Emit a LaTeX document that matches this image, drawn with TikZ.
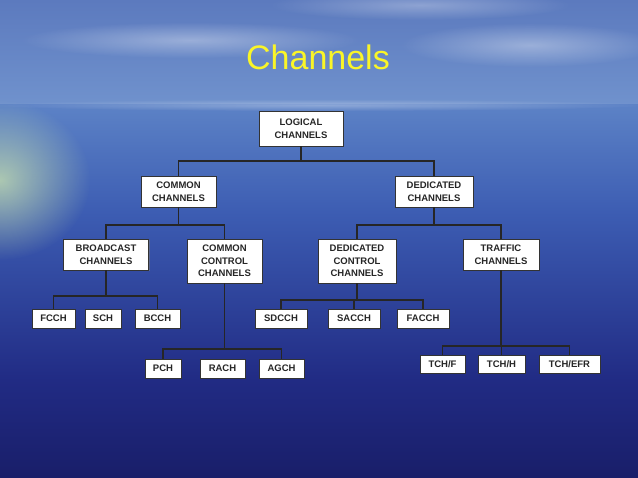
\documentclass[tikz,border=0pt]{standalone}
\usepackage{fontspec}
\setmainfont{Liberation Sans}
\usetikzlibrary{shadows,fadings}
\definecolor{glow}{RGB}{215,240,175}
\definecolor{ttl}{RGB}{250,245,40}
\definecolor{c0}{RGB}{92,122,190}
\definecolor{c1}{RGB}{112,146,205}
\definecolor{c2}{RGB}{92,130,198}
\definecolor{c3}{RGB}{60,92,178}
\definecolor{c4}{RGB}{33,43,132}
\definecolor{c5}{RGB}{25,30,105}
\tikzfading[name=softc, inner color=transparent!0, outer color=transparent!100]
\begin{document}
\begin{tikzpicture}[x=1pt,y=-1pt,
  bx/.style={draw=black!80,fill=white,line width=0.9pt,align=center,inner sep=1pt,
    font=\fontsize{9.5}{12.5}\selectfont\bfseries,text=black!85,
    drop shadow={shadow xshift=1pt,shadow yshift=-1pt,opacity=0.5}},
  ln/.style={draw=black!85,line width=1.5pt}]
\useasboundingbox (0,0) rectangle (638,478);
\shade[top color=c0,bottom color=c1] (0,0) rectangle (638,105);
\shade[top color=c2,bottom color=c3] (0,105) rectangle (638,215);
\shade[top color=c3,bottom color=c4] (0,215) rectangle (638,380);
\shade[top color=c4,bottom color=c5] (0,380) rectangle (638,478);
\begin{scope}
\clip (0,0) rectangle (638,478);
\fill[glow,path fading=softc,opacity=0.7] (0,180) ellipse (90 and 80);
\fill[white,path fading=softc,opacity=0.35] (190,40) ellipse (170 and 18);
\fill[white,path fading=softc,opacity=0.35] (530,45) ellipse (130 and 22);
\fill[white,path fading=softc,opacity=0.3] (420,5) ellipse (150 and 15);
\fill[white,path fading=softc,opacity=0.3] (320,105) ellipse (330 and 6);
\end{scope}
\node[font=\fontsize{34}{40}\selectfont,text=ttl] (t) at (318,57) {Channels};

\node[bx,minimum width=84,minimum height=35] (log) at (301,128.5) {LOGICAL\\CHANNELS};
\node[bx,minimum width=75,minimum height=31] (cc) at (178.5,191.5) {COMMON\\CHANNELS};
\node[bx,minimum width=78,minimum height=31] (dc) at (434,191.5) {DEDICATED\\CHANNELS};
\node[bx,minimum width=85,minimum height=31] (bc) at (106,254.5) {BROADCAST\\CHANNELS};
\node[bx,minimum width=75,minimum height=44] (ccc) at (224.5,261) {COMMON\\CONTROL\\CHANNELS};
\node[bx,minimum width=78,minimum height=44] (dcc) at (357,261) {DEDICATED\\CONTROL\\CHANNELS};
\node[bx,minimum width=76,minimum height=31] (tc) at (501,254.5) {TRAFFIC\\CHANNELS};
\node[bx,minimum width=43,minimum height=19] (fcch) at (53.5,318.5) {FCCH};
\node[bx,minimum width=36,minimum height=19] (sch) at (103,318.5) {SCH};
\node[bx,minimum width=45,minimum height=19] (bcch) at (157.5,318.5) {BCCH};
\node[bx,minimum width=52,minimum height=19] (sdcch) at (281,318.5) {SDCCH};
\node[bx,minimum width=52,minimum height=19] (sacch) at (354,318.5) {SACCH};
\node[bx,minimum width=52,minimum height=19] (facch) at (423,318.5) {FACCH};
\node[bx,minimum width=36,minimum height=19] (pch) at (163,368.5) {PCH};
\node[bx,minimum width=45,minimum height=19] (rach) at (222.5,368.5) {RACH};
\node[bx,minimum width=45,minimum height=19] (agch) at (281.5,368.5) {AGCH};
\node[bx,minimum width=45,minimum height=18] (tchf) at (442.5,364) {TCH/F};
\node[bx,minimum width=47,minimum height=18] (tchh) at (501.5,364) {TCH/H};
\node[bx,minimum width=61,minimum height=18] (tche) at (569.5,364) {TCH/EFR};

\draw[ln] (log.south) -- (log.south|-0,161);
\draw[ln] (cc.north) -- (cc.north|-0,161) -- (dc.north|-0,161) -- (dc.north);
\draw[ln] (cc.south) -- (cc.south|-0,225);
\draw[ln] (bc.north) -- (bc.north|-0,225) -- (ccc.north|-0,225) -- (ccc.north);
\draw[ln] (dc.south) -- (dc.south|-0,225);
\draw[ln] (dcc.north) -- (dcc.north|-0,225) -- (tc.north|-0,225) -- (tc.north);
\draw[ln] (bc.south) -- (bc.south|-0,296);
\draw[ln] (fcch.north) -- (fcch.north|-0,296) -- (bcch.north|-0,296) -- (bcch.north);
\draw[ln] (ccc.south) -- (ccc.south|-0,349);
\draw[ln] (pch.north) -- (pch.north|-0,349) -- (agch.north|-0,349) -- (agch.north);
\draw[ln] (dcc.south) -- (dcc.south|-0,300);
\draw[ln] (sacch.north) -- (sacch.north|-0,300);
\draw[ln] (sdcch.north) -- (sdcch.north|-0,300) -- (facch.north|-0,300) -- (facch.north);
\draw[ln] (tc.south) -- (tc.south|-0,346);
\draw[ln] (tchf.north) -- (tchf.north|-0,346) -- (tche.north|-0,346) -- (tche.north);
\draw[ln] (tchh.north) -- (tchh.north|-0,346);
\end{tikzpicture}
\end{document}
